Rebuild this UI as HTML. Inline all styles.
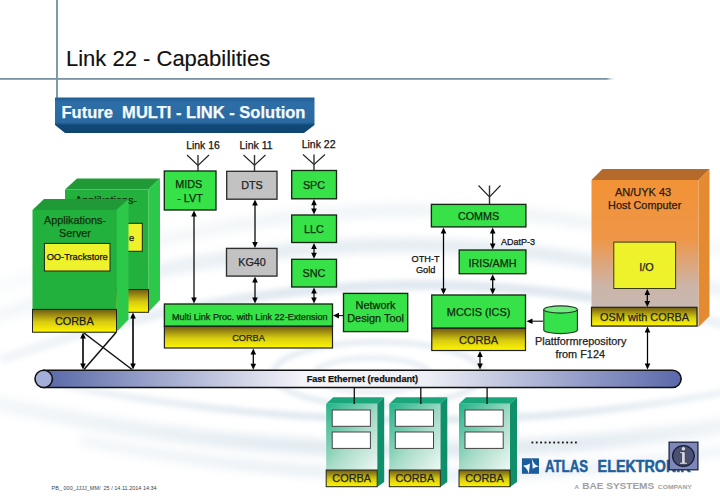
<!DOCTYPE html>
<html><head><meta charset="utf-8">
<style>
html,body{margin:0;padding:0;background:#fff;}
body{width:720px;height:498px;overflow:hidden;position:relative;}
svg{position:absolute;left:0;top:0;}
text{font-family:"Liberation Sans",sans-serif;}
</style></head><body>
<svg width="720" height="498" viewBox="0 0 720 498">
<defs>
  <linearGradient id="corba" x1="0" y1="0" x2="0" y2="1">
    <stop offset="0" stop-color="#6e5a12"/>
    <stop offset="0.55" stop-color="#d8cc10"/>
    <stop offset="1" stop-color="#fff600"/>
  </linearGradient>
  <linearGradient id="bus" x1="0" y1="0" x2="1" y2="0">
    <stop offset="0" stop-color="#5868a8"/>
    <stop offset="0.41" stop-color="#f6f6fa"/>
    <stop offset="0.6" stop-color="#eeeff6"/>
    <stop offset="1" stop-color="#5a68aa"/>
  </linearGradient>
  <linearGradient id="srvfront" x1="0" y1="0" x2="0.7" y2="1">
    <stop offset="0" stop-color="#22b388"/>
    <stop offset="0.55" stop-color="#a8dcc8"/>
    <stop offset="1" stop-color="#eef8f4"/>
  </linearGradient>
  <linearGradient id="maskgrad" x1="0" y1="0" x2="1" y2="0">
    <stop offset="0" stop-color="#fff" stop-opacity="0.35"/>
    <stop offset="0.4" stop-color="#fff" stop-opacity="0.9"/>
    <stop offset="0.8" stop-color="#fff" stop-opacity="0.9"/>
    <stop offset="1" stop-color="#fff" stop-opacity="0.5"/>
  </linearGradient>
  <linearGradient id="hline" x1="0" y1="0" x2="1" y2="0">
    <stop offset="0" stop-color="#7a94a6"/>
    <stop offset="0.985" stop-color="#7a94a6"/>
    <stop offset="1" stop-color="#ffffff" stop-opacity="0"/>
  </linearGradient>
  <linearGradient id="orange" x1="0" y1="0" x2="0" y2="1">
    <stop offset="0" stop-color="#f29236"/>
    <stop offset="0.4" stop-color="#ee9648"/>
    <stop offset="0.72" stop-color="#ccb4a8"/>
    <stop offset="1" stop-color="#c4bcb8"/>
  </linearGradient>
  <linearGradient id="banner" x1="0" y1="0" x2="0" y2="1">
    <stop offset="0" stop-color="#1e5f95"/>
    <stop offset="0.15" stop-color="#2e6ea6"/>
    <stop offset="0.7" stop-color="#2a68a0"/>
    <stop offset="0.78" stop-color="#104878"/>
    <stop offset="1" stop-color="#0e4470"/>
  </linearGradient>
  <filter id="blur5" x="-20%" y="-50%" width="140%" height="200%"><feGaussianBlur stdDeviation="4"/></filter>
  <filter id="blur3" x="-20%" y="-50%" width="140%" height="200%"><feGaussianBlur stdDeviation="2.5"/></filter>
</defs>
<mask id="bgmask" maskUnits="userSpaceOnUse" x="0" y="0" width="720" height="498"><rect x="0" y="0" width="720" height="498" fill="url(#maskgrad)"/></mask>
<g fill="none" mask="url(#bgmask)">
  <ellipse cx="372" cy="375" rx="58" ry="17" stroke="#d0dde8" stroke-width="4" filter="url(#blur3)" opacity="0.7"/>
  <ellipse cx="378" cy="374" rx="105" ry="32" stroke="#d0dde8" stroke-width="5" filter="url(#blur3)" opacity="0.7"/>
  <path d="M60,385 Q430,455 760,385" stroke="#cddbe6" stroke-width="7" filter="url(#blur3)" opacity="0.7"/>
  <path d="M-60,390 Q420,510 900,390" stroke="#d3e0ea" stroke-width="16" filter="url(#blur5)" opacity="0.7"/>
  <path d="M80,440 Q430,510 780,440" stroke="#dae5ee" stroke-width="12" filter="url(#blur5)" opacity="0.6"/>
  <path d="M-40,330 Q400,160 840,330" stroke="#d6e2eb" stroke-width="14" filter="url(#blur5)" opacity="0.7"/>
  <path d="M0,360 Q420,210 840,360" stroke="#cfdce7" stroke-width="10" filter="url(#blur3)" opacity="0.7"/>
  <path d="M-100,330 Q420,90 940,330" stroke="#e2eaf0" stroke-width="14" filter="url(#blur5)" opacity="0.5"/>
</g>

<line x1="57" y1="0" x2="57" y2="99" stroke="#7190a8" stroke-width="1.8"/>
<rect x="0" y="78" width="616" height="1.8" fill="url(#hline)"/>
<text x="66" y="66.4" font-size="22" fill="#111" stroke="#111" stroke-width="0.15" text-anchor="start" >Link 22 - Capabilities</text>
<polygon points="55,97.5 314.5,97.5 314.5,125 304,133 65,133 55,125" fill="url(#banner)"/>
<text x="61.5" y="117.5" font-size="16.55" fill="#f4fbff" stroke="#f4fbff" stroke-width="0.25" text-anchor="start" font-weight="bold" >Future&#160; MULTI - LINK - Solution</text>
<polygon points="65,189.5 77,178.5 160,178.5 148.5,189.5" fill="#1f9a36"/>
<polygon points="148.5,189.5 160,178.5 160,300 148.5,312" fill="#2cc84a"/>
<rect x="65" y="189.5" width="83.5" height="122.5" fill="#22b13c"/>
<text x="106" y="203.5" font-size="10.8" fill="#10300f" stroke="#10300f" stroke-width="0.25" text-anchor="middle" >Applikations-</text>
<rect x="126" y="223.3" width="16.30000000000001" height="28.0" fill="#eef22a" stroke="#222" stroke-width="1"/>
<text x="129" y="240.5" font-size="9.3" fill="#111" stroke="#111" stroke-width="0.25" text-anchor="start" >e</text>
<rect x="65" y="289.5" width="83.5" height="22.8" fill="url(#corba)" stroke="#222" stroke-width="1"/>
<polygon points="32.5,210 44,199 128.5,199 116.5,210" fill="#1f9a36"/>
<polygon points="116.5,210 128.5,199 128.5,319.5 116.5,332" fill="#2cc84a"/>
<rect x="32.5" y="210" width="84" height="122.2" fill="#22b13c"/>
<text x="75" y="224" font-size="10.8" fill="#10300f" stroke="#10300f" stroke-width="0.25" text-anchor="middle" >Applikations-</text>
<text x="75" y="237" font-size="10.8" fill="#10300f" stroke="#10300f" stroke-width="0.25" text-anchor="middle" >Server</text>
<rect x="44.4" y="243.4" width="65.6" height="27.599999999999994" fill="#eef22a" stroke="#222" stroke-width="1"/>
<text x="77.2" y="260.4" font-size="9.3" fill="#111" stroke="#111" stroke-width="0.25" text-anchor="middle" >OO-Trackstore</text>
<rect x="32.5" y="309.4" width="84" height="22.8" fill="url(#corba)" stroke="#222" stroke-width="1"/>
<text x="74.3" y="325" font-size="10.9" fill="#1a1a1a" stroke="#1a1a1a" stroke-width="0.25" text-anchor="middle" >CORBA</text>
<line x1="83" y1="335.5" x2="83" y2="366.5" stroke="#000" stroke-width="1.6"/>
<polygon points="83,332.5 80.2,338.5 85.8,338.5" fill="#000"/>
<polygon points="83,369.5 80.2,363.5 85.8,363.5" fill="#000"/>
<line x1="133" y1="315.5" x2="133" y2="366.5" stroke="#000" stroke-width="1.6"/>
<polygon points="133,312.5 130.2,318.5 135.8,318.5" fill="#000"/>
<polygon points="133,369.5 130.2,363.5 135.8,363.5" fill="#000"/>
<line x1="84" y1="333" x2="132" y2="369.5" stroke="#111" stroke-width="1.5"/>
<line x1="116" y1="332.5" x2="84" y2="369.5" stroke="#111" stroke-width="1.5"/>
<polyline points="187,155 198,165.5 209,155" fill="none" stroke="#222" stroke-width="1.1"/>
<line x1="198" y1="155" x2="198" y2="171" stroke="#333" stroke-width="1.4"/>
<polyline points="243.5,155 254.5,165.2 265.5,155" fill="none" stroke="#222" stroke-width="1.1"/>
<line x1="254.5" y1="155" x2="254.5" y2="171" stroke="#333" stroke-width="1.4"/>
<polyline points="303,154.5 314,164.5 325,154.5" fill="none" stroke="#222" stroke-width="1.1"/>
<line x1="314" y1="154.5" x2="314" y2="170.5" stroke="#333" stroke-width="1.4"/>
<text x="203" y="148.7" font-size="10.4" fill="#111" stroke="#111" stroke-width="0.25" text-anchor="middle" >Link 16</text>
<text x="256" y="148.5" font-size="10.5" fill="#111" stroke="#111" stroke-width="0.25" text-anchor="middle" >Link 11</text>
<text x="318.6" y="148" font-size="10.5" fill="#111" stroke="#111" stroke-width="0.25" text-anchor="middle" >Link 22</text>
<rect x="164.3" y="171" width="51.69999999999999" height="39" fill="#36e248" stroke="#142814" stroke-width="1.35"/>
<text x="188.8" y="188" font-size="10.8" fill="#0f2a0f" stroke="#0f2a0f" stroke-width="0.25" text-anchor="middle" >MIDS</text>
<text x="190" y="201.7" font-size="10.8" fill="#0f2a0f" stroke="#0f2a0f" stroke-width="0.25" text-anchor="middle" >- LVT</text>
<rect x="226.7" y="171.3" width="50.30000000000001" height="27.899999999999977" fill="#c2c2c2" stroke="#2e2e2e" stroke-width="1.35"/>
<text x="252" y="189" font-size="10.8" fill="#222" stroke="#222" stroke-width="0.25" text-anchor="middle" >DTS</text>
<rect x="291.7" y="170.5" width="44.80000000000001" height="28.30000000000001" fill="#36e248" stroke="#142814" stroke-width="1.35"/>
<text x="314" y="189" font-size="10.8" fill="#0f2a0f" stroke="#0f2a0f" stroke-width="0.25" text-anchor="middle" >SPC</text>
<rect x="291.7" y="215" width="44.80000000000001" height="27.5" fill="#36e248" stroke="#142814" stroke-width="1.35"/>
<text x="314" y="233" font-size="10.8" fill="#0f2a0f" stroke="#0f2a0f" stroke-width="0.25" text-anchor="middle" >LLC</text>
<rect x="226.5" y="248.4" width="50.5" height="27.700000000000017" fill="#c2c2c2" stroke="#2e2e2e" stroke-width="1.35"/>
<text x="252" y="266" font-size="10.8" fill="#222" stroke="#222" stroke-width="0.25" text-anchor="middle" >KG40</text>
<rect x="291.7" y="259.3" width="44.80000000000001" height="27.69999999999999" fill="#36e248" stroke="#142814" stroke-width="1.35"/>
<text x="314" y="277" font-size="10.8" fill="#0f2a0f" stroke="#0f2a0f" stroke-width="0.25" text-anchor="middle" >SNC</text>
<rect x="164.4" y="304" width="168.1" height="22.30000000000001" fill="#36e248" stroke="#142814" stroke-width="1.35"/>
<text x="249.8" y="320.2" font-size="9.1" fill="#0f2a0f" stroke="#0f2a0f" stroke-width="0.25" text-anchor="middle" >Multi Link Proc. with Link 22-Extension</text>
<rect x="164.4" y="326.3" width="168.1" height="21.7" fill="url(#corba)" stroke="#222" stroke-width="1.2"/>
<text x="248.5" y="341" font-size="9.2" fill="#222" stroke="#222" stroke-width="0.25" text-anchor="middle" >CORBA</text>
<rect x="343.5" y="293.4" width="64.19999999999999" height="38.200000000000045" fill="#36e248" stroke="#142814" stroke-width="1.35"/>
<text x="375.6" y="309.4" font-size="10.9" fill="#0f2a0f" stroke="#0f2a0f" stroke-width="0.25" text-anchor="middle" >Network</text>
<text x="375.6" y="322.4" font-size="10.9" fill="#0f2a0f" stroke="#0f2a0f" stroke-width="0.25" text-anchor="middle" >Design Tool</text>
<line x1="194" y1="213.5" x2="194" y2="300.5" stroke="#000" stroke-width="1.25"/>
<polygon points="194,210.5 191.2,216.5 196.8,216.5" fill="#000"/>
<polygon points="194,303.5 191.2,297.5 196.8,297.5" fill="#000"/>
<line x1="255" y1="202.5" x2="255" y2="245" stroke="#000" stroke-width="1.25"/>
<polygon points="255,199.5 252.2,205.5 257.8,205.5" fill="#000"/>
<polygon points="255,248 252.2,242 257.8,242" fill="#000"/>
<line x1="255" y1="279.5" x2="255" y2="300.5" stroke="#000" stroke-width="1.25"/>
<polygon points="255,276.5 252.2,282.5 257.8,282.5" fill="#000"/>
<polygon points="255,303.5 252.2,297.5 257.8,297.5" fill="#000"/>
<line x1="314" y1="202.3" x2="314" y2="211.5" stroke="#000" stroke-width="1.25"/>
<polygon points="314,199.3 311.2,205.3 316.8,205.3" fill="#000"/>
<polygon points="314,214.5 311.2,208.5 316.8,208.5" fill="#000"/>
<line x1="314" y1="246" x2="314" y2="255.8" stroke="#000" stroke-width="1.25"/>
<polygon points="314,243 311.2,249 316.8,249" fill="#000"/>
<polygon points="314,258.8 311.2,252.8 316.8,252.8" fill="#000"/>
<line x1="314" y1="290.5" x2="314" y2="300.5" stroke="#000" stroke-width="1.25"/>
<polygon points="314,287.5 311.2,293.5 316.8,293.5" fill="#000"/>
<polygon points="314,303.5 311.2,297.5 316.8,297.5" fill="#000"/>
<line x1="343" y1="315.6" x2="338" y2="315.6" stroke="#111" stroke-width="1.1"/>
<polygon points="333,315.6 339,312.8 339,318.40000000000003" fill="#000"/>
<line x1="253.3" y1="351.5" x2="253.3" y2="366.8" stroke="#000" stroke-width="1.25"/>
<polygon points="253.3,348.5 250.5,354.5 256.1,354.5" fill="#000"/>
<polygon points="253.3,369.8 250.5,363.8 256.1,363.8" fill="#000"/>
<polyline points="478.5,185.5 489.5,197 500.5,185.5" fill="none" stroke="#222" stroke-width="1.1"/>
<line x1="489.5" y1="185.5" x2="489.5" y2="204.4" stroke="#333" stroke-width="1.4"/>
<rect x="431.4" y="204.4" width="94.5" height="22.5" fill="#36e248" stroke="#142814" stroke-width="1.35"/>
<text x="478.6" y="219.8" font-size="10.8" fill="#0f2a0f" stroke="#0f2a0f" stroke-width="0.25" text-anchor="middle" >COMMS</text>
<rect x="459.2" y="250" width="66.69999999999999" height="23.69999999999999" fill="#36e248" stroke="#142814" stroke-width="1.35"/>
<text x="492.5" y="267" font-size="10.8" fill="#0f2a0f" stroke="#0f2a0f" stroke-width="0.25" text-anchor="middle" >IRIS/AMH</text>
<text x="501" y="244.5" font-size="9" fill="#111" stroke="#111" stroke-width="0.25" text-anchor="start" >ADatP-3</text>
<text x="425.6" y="262.2" font-size="9.2" fill="#111" stroke="#111" stroke-width="0.25" text-anchor="middle" >OTH-T</text>
<text x="425.6" y="273.3" font-size="9.2" fill="#111" stroke="#111" stroke-width="0.25" text-anchor="middle" >Gold</text>
<line x1="443.5" y1="230.4" x2="443.5" y2="291.5" stroke="#000" stroke-width="1.25"/>
<polygon points="443.5,227.4 440.7,233.4 446.3,233.4" fill="#000"/>
<polygon points="443.5,294.5 440.7,288.5 446.3,288.5" fill="#000"/>
<line x1="492.7" y1="230.4" x2="492.7" y2="246.5" stroke="#000" stroke-width="1.25"/>
<polygon points="492.7,227.4 489.9,233.4 495.5,233.4" fill="#000"/>
<polygon points="492.7,249.5 489.9,243.5 495.5,243.5" fill="#000"/>
<line x1="492.7" y1="277.2" x2="492.7" y2="291.5" stroke="#000" stroke-width="1.25"/>
<polygon points="492.7,274.2 489.9,280.2 495.5,280.2" fill="#000"/>
<polygon points="492.7,294.5 489.9,288.5 495.5,288.5" fill="#000"/>
<rect x="431.75" y="295" width="93.75" height="33.25" fill="#36e248" stroke="#142814" stroke-width="1.35"/>
<text x="478.6" y="316.25" font-size="10.9" fill="#0f2a0f" stroke="#0f2a0f" stroke-width="0.25" text-anchor="middle" >MCCIS (ICS)</text>
<rect x="431.75" y="328.25" width="93.75" height="22.25" fill="url(#corba)" stroke="#222" stroke-width="1.2"/>
<text x="478.6" y="343.75" font-size="11" fill="#222" stroke="#222" stroke-width="0.25" text-anchor="middle" >CORBA</text>
<line x1="480" y1="354" x2="480" y2="366.5" stroke="#000" stroke-width="1.25"/>
<polygon points="480,351 477.2,357 482.8,357" fill="#000"/>
<polygon points="480,369.5 477.2,363.5 482.8,363.5" fill="#000"/>
<path d="M543.8,309.5 L543.8,330 A16.8,3.6 0 0 0 577.4,330 L577.4,309.5 Z" fill="#36e24c" stroke="#1e3a1e" stroke-width="1.1"/>
<ellipse cx="560.6" cy="309.5" rx="16.8" ry="3.6" fill="#74ec84" stroke="#1e3a1e" stroke-width="1.1"/>
<line x1="543" y1="321.2" x2="532" y2="321.2" stroke="#111" stroke-width="1.1"/>
<polygon points="526.5,321.2 532.5,318.4 532.5,324.0" fill="#000"/>
<text x="580.7" y="345.3" font-size="10.9" fill="#222" stroke="#222" stroke-width="0.25" text-anchor="middle" >Plattformrepository</text>
<text x="580.2" y="358" font-size="10.9" fill="#222" stroke="#222" stroke-width="0.25" text-anchor="middle" >from F124</text>
<polygon points="591.5,180 602.5,169 709.5,169 698.5,180" fill="#b46a2a"/>
<polygon points="698.5,180 709.5,169 709.5,316 698.5,327" fill="#e48a30"/>
<rect x="591.5" y="180" width="107" height="147" fill="url(#orange)"/>
<text x="643" y="195.7" font-size="11" fill="#2a1a10" stroke="#2a1a10" stroke-width="0.25" text-anchor="middle" >AN/UYK 43</text>
<text x="644.7" y="208.8" font-size="10.9" fill="#2a1a10" stroke="#2a1a10" stroke-width="0.25" text-anchor="middle" >Host Computer</text>
<rect x="613.8" y="242.1" width="61.80000000000007" height="46.400000000000006" fill="#eef22a" stroke="#3a3a10" stroke-width="1"/>
<text x="646.5" y="270.8" font-size="10.9" fill="#222" stroke="#222" stroke-width="0.25" text-anchor="middle" >I/O</text>
<rect x="591.5" y="307.3" width="105.5" height="18.7" fill="url(#corba)" stroke="#222" stroke-width="1.2"/>
<text x="644.6" y="320.5" font-size="10.9" fill="#222" stroke="#222" stroke-width="0.25" text-anchor="middle" >OSM with CORBA</text>
<line x1="647.3" y1="292" x2="647.3" y2="304" stroke="#000" stroke-width="1.25"/>
<polygon points="647.3,289 644.5,295 650.0999999999999,295" fill="#000"/>
<polygon points="647.3,307 644.5,301 650.0999999999999,301" fill="#000"/>
<line x1="647.5" y1="329.5" x2="647.5" y2="366.5" stroke="#000" stroke-width="1.25"/>
<polygon points="647.5,326.5 644.7,332.5 650.3,332.5" fill="#000"/>
<polygon points="647.5,369.5 644.7,363.5 650.3,363.5" fill="#000"/>
<path d="M43.7,370.2 L672.5,370.2 A8.65,8.65 0 0 1 672.5,387.5 L43.7,387.5 Z" fill="url(#bus)" stroke="#111" stroke-width="1.6"/>
<ellipse cx="43.7" cy="378.85" rx="8.7" ry="8.65" fill="#a4aed8" stroke="#111" stroke-width="1.6"/>
<text x="362.4" y="382.4" font-size="9.15" fill="#111" stroke="#111" stroke-width="0.25" text-anchor="middle" font-weight="bold" >Fast Ethernet (redundant)</text>
<line x1="354.3" y1="387.5" x2="354.3" y2="404" stroke="#111" stroke-width="1.3"/>
<polygon points="326.2,403.8 333.2,397.2 384.2,397.2 377.2,403.8" fill="#1aa57a"/>
<polygon points="377.2,403.8 384.2,397.2 384.2,482 377.2,487" fill="#10906a"/>
<rect x="326.2" y="403.8" width="51" height="83" fill="url(#srvfront)"/>
<line x1="354.3" y1="397" x2="354.3" y2="404" stroke="#111" stroke-width="1.3"/>
<rect x="332.2" y="410" width="38.19999999999999" height="16.30000000000001" fill="#fff" stroke="#444" stroke-width="1"/>
<rect x="332.2" y="432" width="38.19999999999999" height="16.399999999999977" fill="#fff" stroke="#444" stroke-width="1"/>
<rect x="326.2" y="470" width="51" height="16.7" fill="url(#corba)" stroke="#222" stroke-width="1"/>
<text x="351.7" y="482.2" font-size="10.9" fill="#222" stroke="#222" stroke-width="0.25" text-anchor="middle" >CORBA</text>
<line x1="420.8" y1="387.5" x2="420.8" y2="404" stroke="#111" stroke-width="1.3"/>
<polygon points="389.3,403.8 396.3,397.2 447.3,397.2 440.3,403.8" fill="#1aa57a"/>
<polygon points="440.3,403.8 447.3,397.2 447.3,482 440.3,487" fill="#10906a"/>
<rect x="389.3" y="403.8" width="51" height="83" fill="url(#srvfront)"/>
<line x1="420.8" y1="397" x2="420.8" y2="404" stroke="#111" stroke-width="1.3"/>
<rect x="395.3" y="410" width="38.19999999999999" height="16.30000000000001" fill="#fff" stroke="#444" stroke-width="1"/>
<rect x="395.3" y="432" width="38.19999999999999" height="16.399999999999977" fill="#fff" stroke="#444" stroke-width="1"/>
<rect x="389.3" y="470" width="51" height="16.7" fill="url(#corba)" stroke="#222" stroke-width="1"/>
<text x="414.8" y="482.2" font-size="10.9" fill="#222" stroke="#222" stroke-width="0.25" text-anchor="middle" >CORBA</text>
<line x1="487.1" y1="387.5" x2="487.1" y2="404" stroke="#111" stroke-width="1.3"/>
<polygon points="459,403.8 466,397.2 517,397.2 510,403.8" fill="#1aa57a"/>
<polygon points="510,403.8 517,397.2 517,482 510,487" fill="#10906a"/>
<rect x="459" y="403.8" width="51" height="83" fill="url(#srvfront)"/>
<line x1="487.1" y1="397" x2="487.1" y2="404" stroke="#111" stroke-width="1.3"/>
<rect x="465" y="410" width="38.19999999999999" height="16.30000000000001" fill="#fff" stroke="#444" stroke-width="1"/>
<rect x="465" y="432" width="38.19999999999999" height="16.399999999999977" fill="#fff" stroke="#444" stroke-width="1"/>
<rect x="459" y="470" width="51" height="16.7" fill="url(#corba)" stroke="#222" stroke-width="1"/>
<text x="484.5" y="482.2" font-size="10.9" fill="#222" stroke="#222" stroke-width="0.25" text-anchor="middle" >CORBA</text>
<rect x="531.50" y="441.6" width="1.8" height="1.8" fill="#111"/>
<rect x="535.85" y="441.6" width="1.8" height="1.8" fill="#111"/>
<rect x="540.20" y="441.6" width="1.8" height="1.8" fill="#111"/>
<rect x="544.55" y="441.6" width="1.8" height="1.8" fill="#111"/>
<rect x="548.90" y="441.6" width="1.8" height="1.8" fill="#111"/>
<rect x="553.25" y="441.6" width="1.8" height="1.8" fill="#111"/>
<rect x="557.60" y="441.6" width="1.8" height="1.8" fill="#111"/>
<rect x="561.95" y="441.6" width="1.8" height="1.8" fill="#111"/>
<rect x="566.30" y="441.6" width="1.8" height="1.8" fill="#111"/>
<rect x="570.65" y="441.6" width="1.8" height="1.8" fill="#111"/>
<rect x="575.00" y="441.6" width="1.8" height="1.8" fill="#111"/>
<rect x="521.9" y="458.3" width="17.1" height="15.5" fill="#1a5c9c"/>
<path d="M523,465.8 Q527,465.6 530,463.6 L528.8,473.8 Q527.5,468.5 523,465.8 Z" fill="#f4fbff"/>
<path d="M531.6,458.3 Q532.8,466 532.6,468.8 Q535.5,467 539,466.6 Q534,465.5 531.6,458.3 Z" fill="#f4fbff"/>
<text x="545" y="471.8" font-size="16" font-weight="bold" fill="#1f5f9c" stroke="#1f5f9c" stroke-width="0.5" textLength="43" lengthAdjust="spacingAndGlyphs">ATLAS</text>
<text x="597.6" y="471.8" font-size="16" font-weight="bold" fill="#1f5f9c" stroke="#1f5f9c" stroke-width="0.5" textLength="93" lengthAdjust="spacingAndGlyphs">ELEKTRONIK</text>
<text x="574.4" y="489.3" font-size="6.2" font-weight="bold" fill="#a0a0a0">A</text>
<text x="582.2" y="489.3" font-size="8.4" font-weight="bold" fill="#a0a0a0" textLength="72" lengthAdjust="spacingAndGlyphs">BAE SYSTEMS</text>
<text x="657.8" y="489.3" font-size="6" font-weight="bold" fill="#a0a0a0" textLength="34" lengthAdjust="spacingAndGlyphs">COMPANY</text>
<rect x="669.1" y="442.2" width="28.8" height="27.6" fill="#7d88b8" stroke="#1e2444" stroke-width="1.3"/>
<ellipse cx="683.4" cy="456" rx="10.8" ry="10.4" fill="#4a5070" stroke="#1a1e3a" stroke-width="1.3"/>
<circle cx="683.4" cy="448.8" r="2.2" fill="#dcdce4" stroke="#1a1e3a" stroke-width="0.6"/>
<path d="M679.5,451.7 L685.2,451.7 L685.2,462.3 L687.4,462.3 L687.4,464.3 L679.5,464.3 L679.5,462.3 L681.6,462.3 L681.6,453.6 L679.5,453.6 Z" fill="#d8d8e0" stroke="#1a1e3a" stroke-width="0.6"/>
<text x="51.6" y="489.6" font-size="5.5" fill="#444" text-anchor="start" >PB_ 000_JJJJ_MM/&#160; 25 / 14.11.2014 14:34</text>
</svg>
</body></html>
